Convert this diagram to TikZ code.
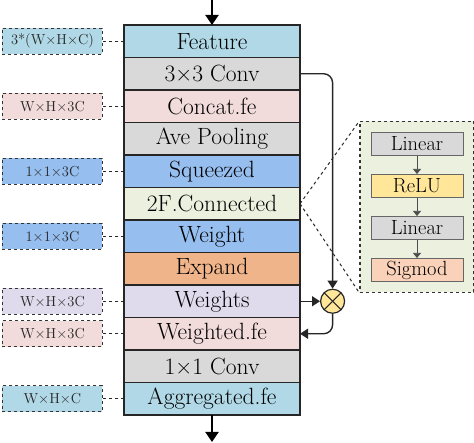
\documentclass[tikz,border=0pt]{standalone}
\usepackage{fontspec}
\usetikzlibrary{arrows.meta, positioning, fit, backgrounds}

\definecolor{featblue}{RGB}{176,216,230}
\definecolor{convgray}{RGB}{217,217,217}
\definecolor{fepink}{RGB}{242,220,219}
\definecolor{sqblue}{RGB}{150,190,238}
\definecolor{fcgreen}{RGB}{235,241,222}
\definecolor{exporange}{RGB}{240,180,138}
\definecolor{wlav}{RGB}{224,219,236}
\definecolor{reluyellow}{RGB}{255,230,153}
\definecolor{sigpeach}{RGB}{250,210,185}

\begin{document}
\begin{tikzpicture}[
    x=1pt, y=-1pt,
    node distance=0pt,
    layer/.style={
        rectangle, draw=black!85, line width=1.2pt,
        minimum height=32.5pt, minimum width=176pt,
        inner sep=0pt, outer sep=0pt,
        font=\fontsize{23.5}{26}\selectfont
    },
    sizebox/.style={
        rectangle, draw=black!80, dashed, line width=1.1pt,
        minimum height=26pt, minimum width=100pt,
        inner sep=0pt, text=black!85,
        font=\fontsize{14.5}{16}\selectfont
    },
    inner/.style={
        rectangle, draw=black!60, line width=1pt,
        minimum height=23pt, minimum width=92pt,
        inner sep=0pt,
        font=\fontsize{20.5}{22}\selectfont
    },
    zoombox/.style={
        rectangle, draw=black!80, dashed, line width=1.1pt,
        fill=fcgreen, inner sep=10.5pt
    },
    link/.style={dashed, line width=1pt, black!85},
    bigarrow/.style={-{Triangle[width=13pt,length=10pt]}, line width=2pt},
    flow/.style={-{Triangle[width=10pt,length=8pt]}, line width=1.4pt, black!85},
    small/.style={-{Triangle[width=8pt,length=5pt]}, line width=0.6pt, black!70}
]

\useasboundingbox (0,0) rectangle (474,443);

\node[layer, fill=featblue] (feat) at (212,41.25) {Feature};
\node[layer, fill=convgray, below=of feat] (conv3) {3×3 Conv};
\node[layer, fill=fepink, below=of conv3] (concat) {Concat.fe};
\node[layer, fill=convgray, below=of concat] (avepool) {Ave Pooling};
\node[layer, fill=sqblue, below=of avepool] (squeeze) {Squeezed};
\node[layer, fill=fcgreen, below=of squeeze] (fc) {2F.Connected};
\node[layer, fill=sqblue, below=of fc] (weight) {Weight};
\node[layer, fill=exporange, below=of weight] (expand) {Expand};
\node[layer, fill=wlav, below=of expand] (weights) {Weights};
\node[layer, fill=fepink, below=of weights] (weighted) {Weighted.fe};
\node[layer, fill=convgray, below=of weighted] (conv1) {1×1 Conv};
\node[layer, fill=featblue, below=of conv1] (aggr) {Aggregated.fe};

\node[sizebox, fill=featblue, left=21pt of feat] (sfeat) {3*(W×H×C)};
\node[sizebox, fill=fepink, left=21pt of concat] (sconcat) {W×H×3C};
\node[sizebox, fill=sqblue, left=21pt of squeeze] (ssqueeze) {1×1×3C};
\node[sizebox, fill=sqblue, left=21pt of weight] (sweight) {1×1×3C};
\node[sizebox, fill=wlav, left=21pt of weights] (sweights) {W×H×3C};
\node[sizebox, fill=fepink, left=21pt of weighted] (sweighted) {W×H×3C};
\node[sizebox, fill=featblue, left=21pt of aggr] (saggr) {W×H×C};

\draw[link] (sfeat) -- (feat);
\draw[link] (sconcat) -- (concat);
\draw[link] (ssqueeze) -- (squeeze);
\draw[link] (sweight) -- (weight);
\draw[link] (sweights) -- (weights);
\draw[link] (sweighted) -- (weighted);
\draw[link] (saggr) -- (aggr);

\coordinate (in) at (212,0);
\coordinate (out) at (212,442);
\draw[bigarrow] (in) -- (feat);
\draw[bigarrow] (aggr) -- (out);

\node[circle, draw=black!85, line width=1.2pt, fill=reluyellow,
      minimum size=24pt, inner sep=0pt, right=20pt of weights,
      path picture={
        \draw[line width=1pt] (path picture bounding box.north west) -- (path picture bounding box.south east);
        \draw[line width=1pt] (path picture bounding box.north east) -- (path picture bounding box.south west);
      }] (mult) {};

\draw[flow, rounded corners=9pt] (conv3.east) -| (mult.north);
\draw[flow] (weights.east) -- (mult.west);
\draw[flow, rounded corners=9pt] (mult.south) |- (weighted.east);

\node[inner, fill=convgray] (lin1) at (417,144) {Linear};
\node[inner, fill=reluyellow, below=18pt of lin1] (relu) {ReLU};
\node[inner, fill=convgray, below=18pt of relu] (lin2) {Linear};
\node[inner, fill=sigpeach, below=18pt of lin2] (sig) {Sigmod};

\begin{pgfonlayer}{background}
\node[zoombox, fit=(lin1)(sig)] (zoom) {};
\end{pgfonlayer}

\draw[small] (lin1) -- (relu);
\draw[small] (relu) -- (lin2);
\draw[small] (lin2) -- (sig);

\draw[link] (fc.east) -- (zoom.north west);
\draw[link] (fc.east) -- (zoom.south west);

\end{tikzpicture}
\end{document}
